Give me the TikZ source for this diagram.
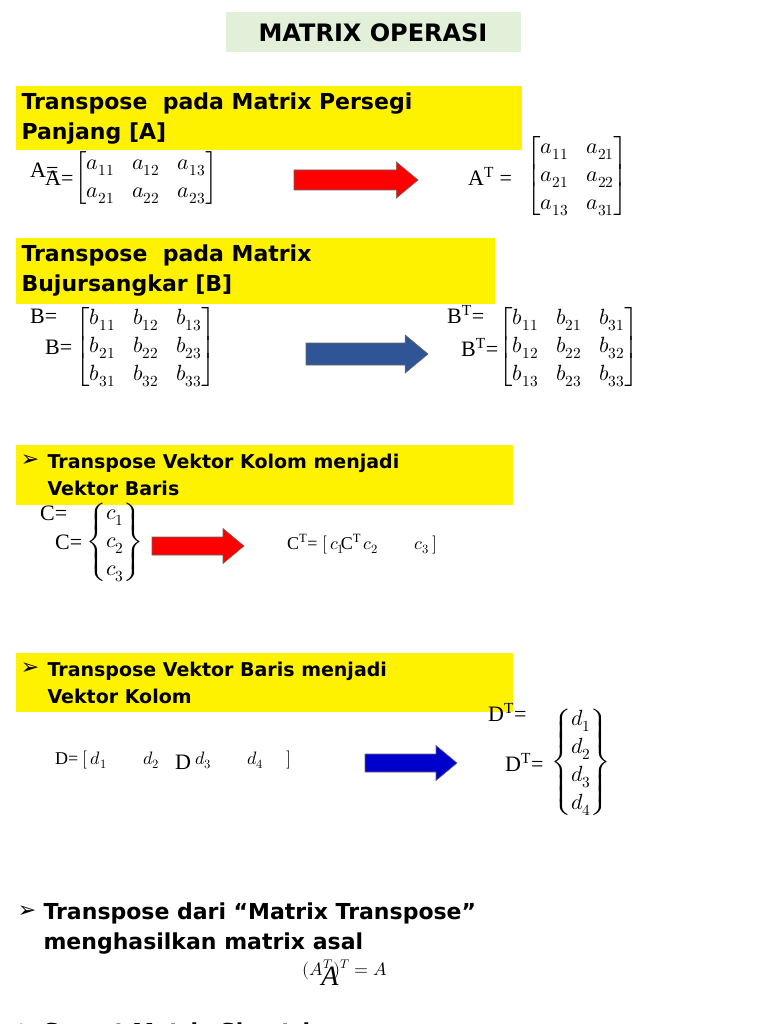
\documentclass[tikz,border=0pt]{standalone}
\usepackage{amsmath}
\usepackage{fontspec}
\usepackage{unicode-math}
\setsansfont{DejaVu Sans}
\newfontfamily\tms{Liberation Serif}
\newfontfamily\djv{DejaVu Sans}
\definecolor{steelblue}{RGB}{47,85,151}
\definecolor{pureblue}{RGB}{0,0,204}
\definecolor{palegreen}{RGB}{226,240,217}
\newcommand{\fatarrow}[6]{% x,y(center),length,shaft,head,color
  \fill[#6,draw=black!60,line width=0.6pt] (#1,#2-#4/2) -- (#1+#3-#5*0.6,#2-#4/2) -- (#1+#3-#5*0.6,#2-#5/2) -- (#1+#3,#2) -- (#1+#3-#5*0.6,#2+#5/2) -- (#1+#3-#5*0.6,#2+#4/2) -- (#1,#2+#4/2) -- cycle;}
\begin{document}
\begin{tikzpicture}[x=1pt,y=-1pt,
  head/.style={anchor=west,font=\sffamily\bfseries\fontsize{22}{30}\selectfont,align=left},
  small/.style={anchor=west,font=\sffamily\bfseries\fontsize{19}{27}\selectfont,align=left},
  lbl/.style={font=\tms\fontsize{22}{26}\selectfont,inner sep=0pt},
  bul/.style={font=\djv\fontsize{22}{24}\selectfont,inner sep=0pt},
  mat/.style={font=\fontsize{22}{28}\selectfont,inner sep=0pt}]
\useasboundingbox (0,0) rectangle (768,1024);
\clip (0,0) rectangle (768,1024);
\fill[white] (0,0) rectangle (768,1024);
% title
\fill[palegreen] (226,12) rectangle (521,52);
\node[font=\sffamily\bfseries\fontsize{24}{28}\selectfont] (title) at (373,33) {MATRIX OPERASI};
% A
\fill[yellow] (16,86) rectangle (522,150);
\node[head] (hA) at (18,119) {Transpose\ \ pada Matrix Persegi\\Panjang [A]};
\node[lbl,anchor=west] (a1) at (30,170) {A=};
\node[lbl,anchor=west] (a2) at (45,178) {A=};
\node[mat,anchor=west] (mA) at (75,178) {$\setlength{\arraycolsep}{9pt}\begin{bmatrix}a_{11}&a_{12}&a_{13}\\a_{21}&a_{22}&a_{23}\end{bmatrix}$};
\fatarrow{294}{180}{124}{20}{36}{red}
\node[lbl,anchor=west] (aT) at (468,176) {A\textsuperscript{T} =};
\node[mat,anchor=west] (mAT) at (526,176) {$\setlength{\arraycolsep}{9pt}\begin{bmatrix}a_{11}&a_{21}\\a_{21}&a_{22}\\a_{13}&a_{31}\end{bmatrix}$};
% B
\fill[yellow] (16,238) rectangle (495,304);
\node[head] (hB) at (18,271) {Transpose\ \ pada Matrix\\Bujursangkar [B]};
\node[lbl,anchor=west] (b1) at (30,316) {B=};
\node[lbl,anchor=west] (b2) at (45,347) {B=};
\node[mat,anchor=west] (mB) at (75,347) {$\setlength{\arraycolsep}{9pt}\begin{bmatrix}b_{11}&b_{12}&b_{13}\\b_{21}&b_{22}&b_{23}\\b_{31}&b_{32}&b_{33}\end{bmatrix}$};
\fatarrow{306}{354}{122}{22}{38}{steelblue}
\node[lbl,anchor=west] (bT1) at (447,314) {B\textsuperscript{T}=};
\node[lbl,anchor=west] (bT2) at (461,347) {B\textsuperscript{T}=};
\node[mat,anchor=west] (mBT) at (498,347) {$\setlength{\arraycolsep}{9pt}\begin{bmatrix}b_{11}&b_{21}&b_{31}\\b_{12}&b_{22}&b_{32}\\b_{13}&b_{23}&b_{33}\end{bmatrix}$};
% C
\fill[yellow] (16,445) rectangle (513,505);
\node[bul] (bc) at (30,461) {➢};
\node[small] (hC) at (44,475) {Transpose Vektor Kolom menjadi\\Vektor Baris};
\node[lbl,anchor=west] (c1) at (40,513) {C=};
\node[lbl,anchor=west] (c2) at (55,542) {C=};
\node[mat,anchor=west] (mC) at (86,542) {$\begin{Bmatrix}c_1\\c_2\\c_3\end{Bmatrix}$};
\fatarrow{152}{546}{92}{18}{35}{red}
\node[lbl,anchor=west,font=\tms\fontsize{18}{20}\selectfont] (cT) at (287,544) {C\textsuperscript{T}= $[\,c_1$\hspace{-4pt}C\textsuperscript{T}$\,c_2\qquad c_3\,]$};
% D
\fill[yellow] (16,653) rectangle (513,712);
\node[bul] (bd) at (30,669) {➢};
\node[small] (hD) at (44,683) {Transpose Vektor Baris menjadi\\Vektor Kolom};
\node[lbl,anchor=west,font=\tms\fontsize{18}{20}\selectfont] (dd) at (55,760) {D= $[\,d_1\qquad d_2\qquad d_3\qquad d_4\quad\ ]$};
\node[lbl,anchor=west] (dg) at (175,762) {D};
\fatarrow{365}{763}{92}{18}{35}{pureblue}
\node[lbl,anchor=west] (dT1) at (488,712) {D\textsuperscript{T}=};
\node[lbl,anchor=west] (dT2) at (505,762) {D\textsuperscript{T}=};
\node[mat,anchor=west] (mD) at (551,762) {$\begin{Bmatrix}d_1\\d_2\\d_3\\d_4\end{Bmatrix}$};
% bottom
\node[bul] (be) at (27,912) {➢};
\node[head] (hE) at (40,929) {Transpose dari “Matrix Transpose”\\menghasilkan matrix asal};
\node[lbl,font=\fontsize{18}{20}\selectfont] (fE) at (345,970) {$(A^T)^T = A$};
\node[lbl,font=\tms\itshape\fontsize{28}{20}\selectfont] (fE2) at (330,976) {A};
\node[bul] (bf) at (27,1030) {➢};
\node[head] (hF) at (40,1034) {Syarat Matrix Simetris};
\end{tikzpicture}
\end{document}
